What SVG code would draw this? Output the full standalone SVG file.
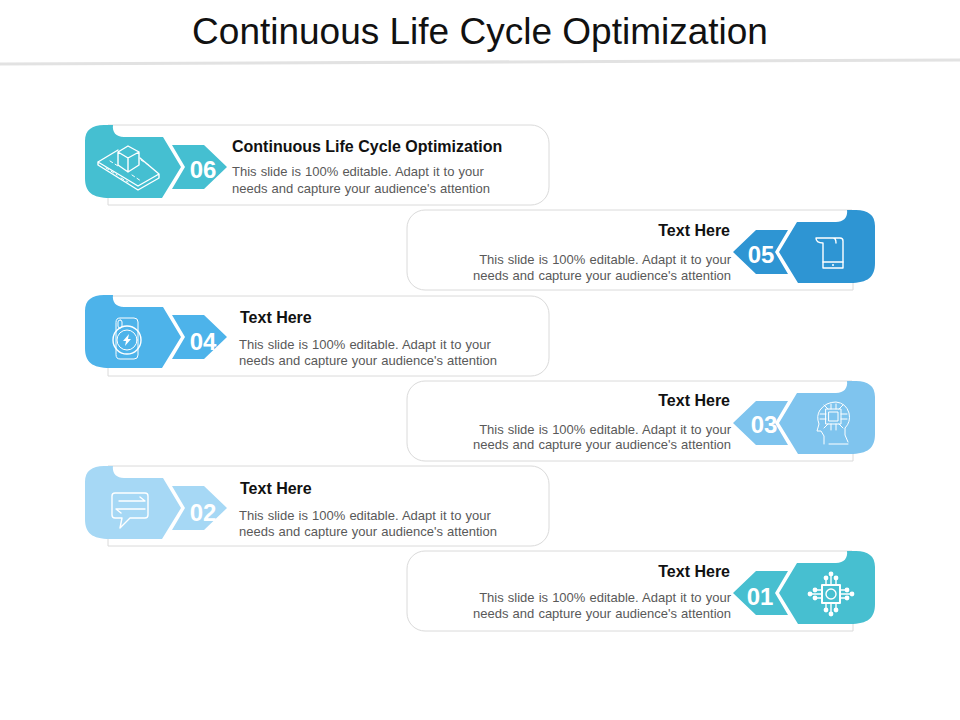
<svg xmlns="http://www.w3.org/2000/svg" width="960" height="720" viewBox="0 0 960 720">
<style>
text{font-family:"Liberation Sans",Arial,sans-serif}
.h{font-size:37px;fill:#111;text-anchor:middle}
.t{font-size:16px;font-weight:700;fill:#111}
.d{font-size:13px;fill:#595959;word-spacing:.5px}
.e{text-anchor:end}
.n{font-size:24px;font-weight:700;fill:#fff;text-anchor:middle}
.c{fill:#fff;stroke:#dadada;stroke-width:1}
.i{fill:none;stroke:#fff;stroke-width:1.4;stroke-linejoin:round;stroke-linecap:round}
.w{fill:#fff;stroke:none}
.thin{stroke-width:1}
</style>
<defs>
<g id="badge">
<path d="M113 125C112 132 116 137 124 137H163L181 167L162 198H110C92 198 85 192 85 178V141C85 130 92 125 104 125Z"/>
<path d="M172 145H204L227 167L204 189H172L185 167Z"/>
</g>
<path id="cardL" class="c" d="M108 125H531A18 18 0 0 1 549 143V187A18 18 0 0 1 531 205H108V190"/>
<path id="cardR" class="c" d="M852 125H425A18 18 0 0 0 407 143V187A18 18 0 0 0 425 205H853V190"/>
</defs>
<text class="h" x="480" y="44">Continuous Life Cycle Optimization</text>
<path d="M0 64L960 60" stroke="#e2e2e2" stroke-width="3" fill="none"/>

<g id="node-06">
<use href="#cardL"/>
<use href="#badge" fill="#45bfd1"/>
<g class="i">
<path d="M118 150L98 162L138 186L159 174L140 158M98 162V165L138 190L159 178V174"/>
<path d="M128 146L139 152V165L128 172L118 165V152ZM118 152L128 158L139 152M128 158V172"/>
<path class="thin" d="M110 161L118 166M132 175L141 181M106 168L117 175M121 178L128 182M141 160L150 166" stroke-dasharray="3 3"/>
</g>
<text class="n" x="203" y="178">06</text>
<text class="t" x="232" y="152">Continuous Life Cycle Optimization</text>
<text class="d" x="232" y="176">This slide is 100% editable. Adapt it to your</text>
<text class="d" x="232" y="193">needs and capture your audience's attention</text>
</g>

<g id="node-05">
<use href="#cardR" y="85"/>
<use href="#badge" fill="#2e95d3" transform="translate(960 85) scale(-1 1)"/>
<g class="i">
<path d="M823 243V268H843V241Q843 238 840 238H816Q816 243 823 243M833 238Q836 238 836 243"/>
<path d="M823 262H843"/>
<circle class="w" cx="833" cy="265" r="1"/>
</g>
<text class="n" x="761" y="263">05</text>
<text class="t e" x="730" y="236">Text Here</text>
<text class="d e" x="731" y="264">This slide is 100% editable. Adapt it to your</text>
<text class="d e" x="731" y="280">needs and capture your audience's attention</text>
</g>

<g id="node-04">
<use href="#cardL" y="171"/>
<use href="#badge" fill="#4db3ea" transform="translate(0 170)"/>
<g class="i">
<path class="thin" d="M116 322Q116 318 120 318H134Q138 318 138 322V355Q138 359 134 359H120Q116 359 116 355Z"/>
<rect class="thin" x="118" y="320" width="4" height="8" rx="2"/>
<circle cx="127" cy="340" r="14"/>
<circle class="thin" cx="127" cy="340" r="10"/>
<path class="w" d="M129 334L123 341H126L125 346L131 339H128Z"/>
</g>
<text class="n" x="203" y="350">04</text>
<text class="t" x="240" y="323">Text Here</text>
<text class="d" x="239" y="349">This slide is 100% editable. Adapt it to your</text>
<text class="d" x="239" y="365">needs and capture your audience's attention</text>
</g>

<g id="node-03">
<use href="#cardR" y="256"/>
<use href="#badge" fill="#7fc4ee" transform="translate(960 256) scale(-1 1)"/>
<g class="i thin">
<path d="M824 444V436L821 431H817L819 424Q816 416 820 410Q826 402 836 402Q846 403 849 413Q851 422 845 428V435L848 442"/>
<rect x="829" y="412" width="9" height="9"/>
<rect x="826" y="409" width="15" height="15"/>
<path d="M831 409V404M836 409V404M826 414H820M826 419H820M841 414H847M841 419H847M831 424V430M836 424V430M829 444H848M824 405L828 409M843 405L839 409M824 428L828 424M843 428L839 424"/>
</g>
<text class="n" x="764" y="433">03</text>
<text class="t e" x="730" y="406">Text Here</text>
<text class="d e" x="731" y="434">This slide is 100% editable. Adapt it to your</text>
<text class="d e" x="731" y="449">needs and capture your audience's attention</text>
</g>

<g id="node-02">
<use href="#cardL" y="341"/>
<use href="#badge" fill="#a6d8f5" transform="translate(0 341)"/>
<g class="i">
<path d="M115 493H145Q148 493 148 496V515Q148 518 145 518H130L120 528L122 518H115Q112 518 112 515V496Q112 493 115 493Z"/>
<path d="M119 501H145L140 497M145 509H116L121 513"/>
</g>
<text class="n" x="203" y="521">02</text>
<text class="t" x="240" y="494">Text Here</text>
<text class="d" x="239" y="520">This slide is 100% editable. Adapt it to your</text>
<text class="d" x="239" y="536">needs and capture your audience's attention</text>
</g>

<g id="node-01">
<use href="#cardR" y="426"/>
<use href="#badge" fill="#47bfd0" transform="translate(960 426) scale(-1 1)"/>
<g class="i">
<rect x="822" y="585" width="18" height="18" stroke-width="2"/>
<circle cx="831" cy="594" r="5"/>
<path d="M826 585V578M831 585V575M836 585V578M826 603V610M831 603V613M836 603V610M822 590H815M822 594H811M822 598H815M840 590H847M840 594H851M840 598H847"/>
</g>
<g class="w">
<circle cx="826" cy="578" r="2.4"/><circle cx="831" cy="574" r="2.4"/><circle cx="836" cy="578" r="2.4"/>
<circle cx="826" cy="610" r="2.4"/><circle cx="831" cy="614" r="2.4"/><circle cx="836" cy="610" r="2.4"/>
<circle cx="815" cy="590" r="2.4"/><circle cx="810" cy="594" r="2.4"/><circle cx="815" cy="598" r="2.4"/>
<circle cx="847" cy="590" r="2.4"/><circle cx="852" cy="594" r="2.4"/><circle cx="847" cy="598" r="2.4"/>
</g>
<text class="n" x="760" y="605">01</text>
<text class="t e" x="730" y="577">Text Here</text>
<text class="d e" x="731" y="602">This slide is 100% editable. Adapt it to your</text>
<text class="d e" x="731" y="618">needs and capture your audience's attention</text>
</g>
</svg>
